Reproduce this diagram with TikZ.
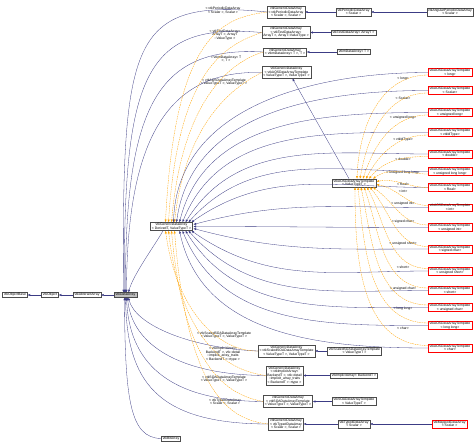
\documentclass[tikz,border=0pt]{standalone}
\usepackage{fontspec}
\setmainfont{Liberation Sans}
\usetikzlibrary{arrows.meta}
\definecolor{navyedge}{RGB}{25,25,112}
\definecolor{orangeedge}{RGB}{255,165,0}
\begin{document}
\begin{tikzpicture}[x=1pt,y=-1pt,
  box/.style={draw=black!70, line width=0.4pt, fill=white, align=center, inner xsep=1.4pt, inner ysep=0.8pt, font=\fontsize{3.4}{3.5}\selectfont},
  redbox/.style={box, draw=red},
  basebox/.style={box, fill=black!25},
  lbl/.style={align=center, inner sep=0pt, font=\fontsize{3.4}{3.5}\selectfont},
  inh/.style={draw=navyedge!85, line width=0.3pt, -{Latex[length=2.6pt,width=2.2pt]}},
  tmpl/.style={draw=orangeedge, line width=0.32pt, dash pattern=on 1.6pt off 0.8pt, -{Latex[length=2.6pt,width=2.2pt]}}
]
\useasboundingbox (0,0) rectangle (474,443);
\fill[white] (0,0) rectangle (474,443);

% left chain
\node[box] (objbase) at (15,295) {vtkObjectBase};
\node[box] (object) at (50,295) {vtkObject};
\node[box] (abstract) at (87,295) {vtkAbstractArray};
\node[basebox] (dataarr) at (125.5,295) {vtkDataArray};
\node[box] (gda) at (171.5,226.5) {vtkGenericDataArray\\< DerivedT, ValueTypeT >};

% top instances
\node[box] (gperiodic) at (286,12) {vtkGenericDataArray\\< vtkPeriodicDataArray\\< Scalar >, Scalar >};
\node[box] (periodic) at (353.5,12) {vtkPeriodicDataArray\\< Scalar >};
\node[box] (angular) at (450,12) {vtkAngularPeriodicDataArray\\< Scalar >};
\node[box] (gtest) at (286,32.5) {vtkGenericDataArray\\< vtkTestDataArray<\\ArrayT >, ArrayT::ValueType >};
\node[box] (test) at (353.5,32.5) {vtkTestDataArray< ArrayT >};
\node[box] (gvtkm) at (285,52) {vtkGenericDataArray\\< vtkmDataArray< T >, T >};
\node[box] (vtkm) at (354,52) {vtkmDataArray< T >};
\node[box] (gaos) at (286.5,72.5) {vtkGenericDataArray\\< vtkAOSDataArrayTemplate\\< ValueTypeT >, ValueTypeT >};
\node[box] (aos) at (354,183) {vtkAOSDataArrayTemplate\\< ValueTypeT >};

% bottom instances
\node[box] (gscaled) at (286.5,351) {vtkGenericDataArray\\< vtkScaledSOADataArrayTemplate\\< ValueTypeT >, ValueTypeT >};
\node[box] (scaled) at (354.5,351) {vtkScaledSOADataArrayTemplate\\< ValueTypeT >};
\node[box] (gimplicit) at (284.5,375.5) {vtkGenericDataArray\\< vtkImplicitArray<\\BackendT >, vtk::detail\\::implicit\_array\_traits\\< BackendT >::rtype >};
\node[box] (implicit) at (354,375.5) {vtkImplicitArray< BackendT >};
\node[box] (gsoa) at (288,401.5) {vtkGenericDataArray\\< vtkSOADataArrayTemplate\\< ValueTypeT >, ValueTypeT >};
\node[box] (soa) at (354,401.5) {vtkSOADataArrayTemplate\\< ValueTypeT >};
\node[box] (gtyped) at (286,424) {vtkGenericDataArray\\< vtkTypedDataArray\\< Scalar >, Scalar >};
\node[box] (typed) at (354,424) {vtkTypedDataArray\\< Scalar >};
\node[redbox] (mapped) at (449.5,424) {vtkMappedDataArray\\< Scalar >};
\node[box] (bitarr) at (171,438.5) {vtkBitArray};

% edge labels of template instances
\node[lbl] (lperiodic) at (223,10.5) {< vtkPeriodicDataArray\\< Scalar >, Scalar >};
\node[lbl] (ltest) at (225,35) {< vtkTestDataArray<\\ArrayT >, ArrayT\\::ValueType >};
\node[lbl] (lvtkm) at (226,59) {< vtkmDataArray< T\\>, T >};
\node[lbl] (laos) at (224,82) {< vtkAOSDataArrayTemplate\\< ValueTypeT >, ValueTypeT >};
\node[lbl] (lscaled) at (224,335) {< vtkScaledSOADataArrayTemplate\\< ValueTypeT >, ValueTypeT >};
\node[lbl] (limplicit) at (223,354) {< vtkImplicitArray<\\BackendT >, vtk::detail\\::implicit\_array\_traits\\< BackendT >::rtype >};
\node[lbl] (lsoa) at (224,379) {< vtkSOADataArrayTemplate\\< ValueTypeT >, ValueTypeT >};
\node[lbl] (ltyped) at (225,402) {< vtkTypedDataArray\\< Scalar >, Scalar >};

% red AOS instances and their labels
\foreach \n/\t/\yy/\ly in {a/long/72.5/78.5, b/Scalar/90.5/98.5, c/unsigned long/112.5/117.5, d/vtkIdType/132.5/140, e/double/154/159.5, f/unsigned long long/171.5/173, g/Real/187.5/184, h/int/207.5/191, i/unsigned int/227.5/204, j/signed char/249/222, k/unsigned short/271/244, l/short/290.5/267, m/unsigned char/307.5/289, o/long long/325.5/309, p/char/348/328}{
  \node[redbox] (r\n) at (450,\yy) {vtkAOSDataArrayTemplate\\< \t >};
  \node[lbl] (l\n) at (403,\ly) {< \t >};
}

% chain edges
\draw[inh] (object) -- (objbase);
\draw[inh] (abstract) -- (object);
\draw[inh] (dataarr) -- (abstract);

% right-hand simple edges
\draw[inh] (angular) -- (periodic);
\draw[inh] (periodic) -- (gperiodic);
\draw[inh] (test) -- (gtest);
\draw[inh] (vtkm) -- (gvtkm);
\draw[inh] ([xshift=-5pt]aos.north) -- ([xshift=6pt]gaos.south);
\draw[inh] (scaled) -- (gscaled);
\draw[inh] (implicit) -- (gimplicit);
\draw[inh] (soa) -- (gsoa);
\draw[inh] (typed) -- (gtyped);
\draw[inh] (mapped) -- (typed);

% instances to vtkDataArray (top)
\draw[inh] (gperiodic.west) .. controls (130,-2) and (122,40) .. ([xshift=-2pt]dataarr.north);
\draw[inh] (gtest.west) .. controls (145,22) and (123,75) .. ([xshift=-1pt]dataarr.north);
\draw[inh] (gvtkm.west) .. controls (158,46) and (125,105) .. (dataarr.north);
\draw[inh] (gaos.west) .. controls (170,70) and (127,135) .. ([xshift=1pt]dataarr.north);
\draw[inh] ([xshift=-8.5pt]gda.south) .. controls (155,245) and (133,275) .. ([xshift=3pt]dataarr.north);
% instances to vtkDataArray (bottom)
\draw[inh] (gscaled.west) .. controls (190,348) and (135,325) .. ([xshift=3pt]dataarr.south);
\draw[inh] (gimplicit.west) .. controls (180,375) and (132,345) .. ([xshift=2pt]dataarr.south);
\draw[inh] (gsoa.west) .. controls (165,401) and (129,360) .. ([xshift=1pt]dataarr.south);
\draw[inh] (gtyped.west) .. controls (155,424) and (127,380) .. (dataarr.south);
\draw[inh] (bitarr.west) .. controls (130,438) and (125,400) .. ([xshift=-1pt]dataarr.south);

% template instances of vtkGenericDataArray
\draw[tmpl] (gperiodic.west) .. controls (225,18) and (175,30) .. ([xshift=-6pt]gda.north);
\draw[tmpl] (gtest.west) .. controls (225,45) and (178,70) .. ([xshift=-3pt]gda.north);
\draw[tmpl] (gvtkm.west) .. controls (230,62) and (182,100) .. (gda.north);
\draw[tmpl] (gaos.west) .. controls (235,86) and (186,120) .. ([xshift=3pt]gda.north);
\draw[tmpl] (gscaled.west) .. controls (225,352) and (178,320) .. ([xshift=-6pt]gda.south);
\draw[tmpl] (gimplicit.west) .. controls (225,370) and (181,340) .. ([xshift=-3pt]gda.south);
\draw[tmpl] (gsoa.west) .. controls (228,395) and (184,370) .. (gda.south);
\draw[tmpl] (gtyped.west) .. controls (228,420) and (187,390) .. ([xshift=3pt]gda.south);

% red boxes: blue to vtkGenericDataArray, orange to vtkAOSDataArrayTemplate
\foreach \n/\bx/\by/\bin/\os/\ox/\oy/\oin in {
  a/2/-4.3/88/2.5/3/-4.3/88,
  b/5/-4.3/82/2.5/6/-4.3/80,
  c/8/-4.3/76/2.5/9/-4.3/72,
  d/11/-4.3/68/2.5/12/-4.3/62,
  e/14/-4.3/58/2.5/15/-4.3/50,
  f/17/-4.3/48/2.5/19/-4.3/35,
  g/20/-4.3/35/0/22.5/-1.5/10,
  h/22/-2/15/-2/22.5/1.5/-10,
  i/22/0/0/-2.5/19/4.3/-35,
  j/22/2/-15/-2.5/16/4.3/-50,
  k/20/4.3/-35/-2.5/13/4.3/-62,
  l/17/4.3/-48/-2.5/10/4.3/-70,
  m/14/4.3/-58/-2.5/7/4.3/-78,
  o/11/4.3/-68/-2.5/4/4.3/-84,
  p/8/4.3/-78/-2.5/1/4.3/-90}{
  \draw[inh] (r\n.west) to[out=180,in=\bin] ([shift={(\bx,\by)}]gda.center);
  \draw[tmpl] ([shift={(0,\os)}]r\n.west) to[out=180,in=\oin] ([shift={(\ox,\oy)}]aos.center);
}
\end{tikzpicture}
\end{document}
